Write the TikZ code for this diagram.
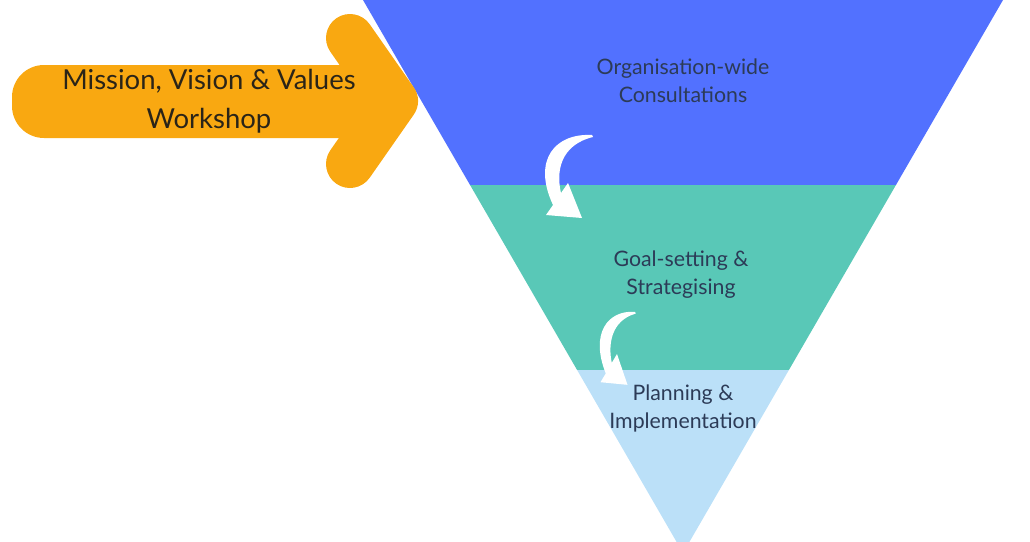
\documentclass[tikz,border=0pt]{standalone}
\usepackage{fontspec}
\setmainfont{Lato}
\definecolor{funblue}{HTML}{5271FF}
\definecolor{funteal}{HTML}{59C8B7}
\definecolor{funlight}{HTML}{BBE0F8}
\definecolor{arroworange}{HTML}{F9A811}
\definecolor{darktext}{HTML}{2A2418}
\definecolor{navytext}{HTML}{2C3B57}
\newcommand\mycurvedarrowpath{%
  (592,135) .. controls (555,133) and (532,160) .. (553,205)
      -- (546,215) -- (582,218) -- (568,183) -- (561,193)
      .. controls (556,172) and (560,145) .. (593,137) -- cycle}
\tikzset{
  orangelabel/.style={text=darktext, align=center, inner sep=0pt, anchor=base,
    font=\fontsize{27.5}{39}\selectfont},
  funlabel/.style={text=navytext, align=center, inner sep=0pt, anchor=base,
    font=\fontsize{21.3}{27.5}\selectfont},
  curvefill/.style={fill=white, draw=none}
}
\begin{document}
\begin{tikzpicture}[x=1pt,y=-1pt]
\useasboundingbox (0,0) rectangle (1030,541);
% funnel
\begin{scope}
  \clip (363,0) -- (1003,0) -- (683,553) -- cycle;
  \fill[funblue] (300,-5) rectangle (1100,185);
  \fill[funteal] (300,185) rectangle (1100,370);
  \fill[funlight] (300,370) rectangle (1100,600);
\end{scope}
% orange arrow
\fill[arroworange, rounded corners=32] (12,65) rectangle (380,138);
\draw[arroworange, line width=48, line cap=round, line join=round]
  (350,38) -- (394,101) -- (350,164);
\node[orangelabel] (mission) at (209,128) {Mission, Vision \& Values\\Workshop};
% white curved arrows
\path[curvefill] \mycurvedarrowpath;
\begin{scope}[shift={(191,193)}, xscale=0.75, yscale=0.88]
  \path[curvefill] \mycurvedarrowpath;
\end{scope}
% funnel labels
\node[funlabel] (consult) at (683,102) {Organisation-wide\\Consultations};
\node[funlabel] (goal) at (681,294) {Goal-setting \&\\Strategising};
\node[funlabel] (plan) at (683,428) {Planning \&\\Implementation};
\end{tikzpicture}
\end{document}
